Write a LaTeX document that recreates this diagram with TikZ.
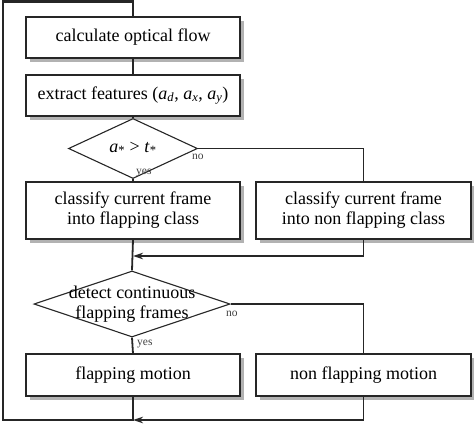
\documentclass[tikz,border=0pt]{standalone}
\usepackage{fontspec}
\setmainfont{Liberation Serif}
\usetikzlibrary{shapes.geometric,shadows,arrows.meta}
\newcommand{\subvar}[2]{\textit{#1}\textsubscript{\textit{#2}}}
\tikzset{
  stepbox/.style={draw=black!85, line width=1.1pt, fill=white, align=center,
    minimum height=41pt, minimum width=214pt, font=\fontsize{18}{20}\selectfont,
    drop shadow={shadow xshift=3.5pt, shadow yshift=-3.5pt, fill=gray!60, opacity=1}},
  decision/.style={draw=black!85, line width=1.1pt, diamond, inner sep=0pt, fill=white,
    font=\fontsize{18}{20}\selectfont},
  flow/.style={draw=black!85, line width=1.8pt},
  answer/.style={font=\fontsize{11.5}{12}\selectfont, text=black!75, inner sep=0pt}
}
\begin{document}
\begin{tikzpicture}[x=1pt, y=-1pt]
  \useasboundingbox (0,0) rectangle (474,424);
  % loop corners
  \coordinate (tl) at (3,1.5);
  \coordinate (bl) at (3,420);
  \coordinate (mj) at (133,256);
  % boxes
  \node[stepbox] (calc) at (133,37.5) {calculate optical flow};
  \node[stepbox] (feat) at (133,95.5) {extract features (\subvar{a}{d}, \subvar{a}{x}, \subvar{a}{y})};
  \node[decision, minimum width=129pt, minimum height=31pt] (thr) at (133,148.5) {\textit{a}\textsubscript{*} > \textit{t}\textsubscript{*}};
  \node[stepbox, minimum height=57pt] (cls) at (133,210.5) {classify current frame\\into flapping class};
  \node[stepbox, minimum height=57pt, minimum width=215pt] (noncls) at (363.5,210.5) {classify current frame\\into non flapping class};
  \node[decision, minimum width=196pt, minimum height=66pt] (det) at (132,304) {};
  \node[align=center, font=\fontsize{18}{20}\selectfont, inner sep=0pt] (dettext) at (det) {detect continuous\\flapping frames};
  \node[stepbox, minimum height=42pt] (flap) at (133,375) {flapping motion};
  \node[stepbox, minimum height=42pt, minimum width=215pt] (nonflap) at (363.5,375) {non flapping motion};
  % connectors
  \draw[flow] (calc.south) -- (feat.north);
  \draw[flow] (feat.south) -- (thr.north);
  \draw[flow] (thr.south) -- (cls.north);
  \draw[flow] (thr.east) -| (noncls.north);
  \draw[flow] (cls.south) -- (det.north);
  \draw[flow, -{Stealth[length=10pt, width=6.5pt]}] (noncls.south) |- (mj);
  \draw[flow] (det.south) -- (flap.north);
  \draw[flow] (det.east) -| (nonflap.north);
  \draw[flow, -{Stealth[length=10pt, width=6.5pt]}] (nonflap.south) |- (flap.south |- bl);
  \draw[flow, line width=2.2pt] (flap.south) -- (flap.south |- bl) -- (bl) -- (tl) -- (calc.north |- tl) -- (calc.north);
  % yes / no
  \node[answer, anchor=north west] (yes1) at (136,169) {yes};
  \node[answer, anchor=north west] (no1) at (192,154) {no};
  \node[answer, anchor=north west] (yes2) at (137,340) {yes};
  \node[answer, anchor=north west] (no2) at (226,311) {no};
\end{tikzpicture}
\end{document}
